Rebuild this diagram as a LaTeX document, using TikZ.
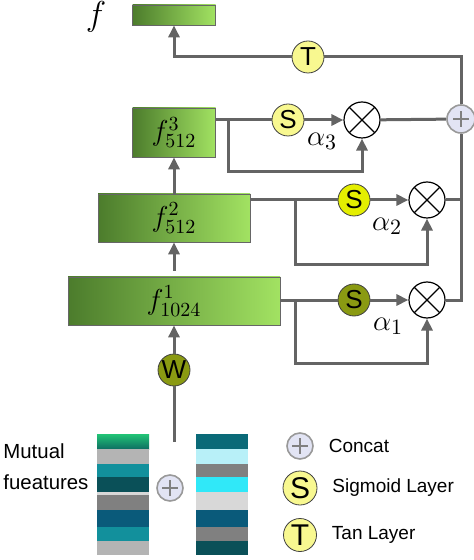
\documentclass[tikz,border=0pt]{standalone}
\usepackage{amsmath}
\usepackage{fontspec}
\setmainfont{Liberation Sans}
\usepackage{tikz}
\usetikzlibrary{matrix, positioning, arrows, arrows.meta}
\usepackage{xcolor}
\definecolor{wirecol}{HTML}{646464}
\definecolor{boxdark}{HTML}{4C7C2C}
\definecolor{boxlight}{HTML}{A2E262}
\definecolor{lightyel}{HTML}{F8F890}
\definecolor{brightyel}{HTML}{E4EE00}
\definecolor{gateolive}{HTML}{8A9A12}
\definecolor{catfill}{HTML}{E2E4F4}
\definecolor{grtop}{HTML}{22C476}
\definecolor{grbot}{HTML}{0E6E62}
\definecolor{lgray}{HTML}{B4B4B4}
\definecolor{mgray}{HTML}{808080}
\definecolor{pale}{HTML}{D8D8D8}
\definecolor{teal1}{HTML}{12909C}
\definecolor{teal2}{HTML}{0A5058}
\definecolor{teal3}{HTML}{0A6A78}
\definecolor{dblue}{HTML}{0A5A7A}
\definecolor{lcyan}{HTML}{B8F0F8}
\definecolor{cyan1}{HTML}{30E8F8}
\tikzstyle{wire} = [wirecol, line width=1.5pt]
\tikzstyle{arrow} = [wire, ->, >={Triangle[length=6pt, width=5.5pt]}]

\begin{document}
\begin{tikzpicture}[
    x=0.5pt, y=-0.5pt,
    fblock/.style={draw=gray!80!black, left color=boxdark, right color=boxlight, minimum height=24pt, inner sep=0, font=\fontsize{14.5}{16}\selectfont},
    gate/.style={circle, draw=black!75, minimum size=16pt, inner sep=0, font=\fontsize{13}{13}\selectfont},
    mult/.style={circle, draw=black, fill=white, minimum size=18pt, inner sep=0, line width=0.6pt,
      path picture={\draw[line width=0.6pt] (path picture bounding box.north west) -- (path picture bounding box.south east)
        (path picture bounding box.north east) -- (path picture bounding box.south west);}},
    concat/.style={circle, draw=gray!80, fill=catfill, minimum size=13pt, inner sep=0, line width=0.8pt,
      path picture={\draw[gray, line width=0.6pt] ([xshift=-4pt]path picture bounding box.center) -- ([xshift=4pt]path picture bounding box.center)
        ([yshift=-4pt]path picture bounding box.center) -- ([yshift=4pt]path picture bounding box.center);}},
    coef/.style={font=\fontsize{15}{15}\selectfont},
    stack/.style={matrix of nodes, nodes in empty cells, row sep=0pt, nodes={minimum width=26pt, inner sep=0, outer sep=0}},
    legtext/.style={font=\fontsize{9.5}{11}\selectfont, right=4pt of #1}
  ]
  \useasboundingbox (0,0) rectangle (474,560);

  % feature blocks
  \node[fblock, minimum width=41.5pt, minimum height=10pt] (fout) at (174,15) {};
  \node[font=\fontsize{18}{18}\selectfont] (flabel) at (96,17) {$f$};
  \node[fblock, minimum width=41.5pt, minimum height=24.5pt] (f3) at (174,132.5) {$f^{3}_{512}$};
  \node[fblock, minimum width=76pt] (f2) at (174,218) {$f^{2}_{512}$};
  \node[fblock, minimum width=106pt] (f1) at (174,301) {$f^{1}_{1024}$};

  % gates
  \node[gate, fill=lightyel] (s3) at (288,120) {S};
  \node[gate, fill=brightyel] (s2) at (354,200) {S};
  \node[gate, fill=gateolive] (s1) at (354,300) {S};
  \node[gate, fill=lightyel] (t) at (308,57) {T};
  \node[gate, fill=gateolive] (w) at (174,370) {W};

  \node[mult] (m3) at (362,120) {};
  \node[mult] (m2) at (427,200) {};
  \node[mult] (m1) at (427,300) {};
  \node[concat, minimum size=14pt] (cc) at (461,119) {};

  \node[coef] (a3) at (322,141) {$\alpha_3$};
  \node[coef] (a2) at (387,226) {$\alpha_2$};
  \node[coef] (a1) at (388,326) {$\alpha_1$};

  \coordinate (b3) at (228,120);
  \coordinate (l3) at (228,172);
  \coordinate (b2) at (295,200);
  \coordinate (l2) at (295,265);
  \coordinate (b1) at (295,300);
  \coordinate (l1) at (295,363);
  \coordinate (wj) at (174,442);

  % connections
  \draw[wire] (f3.east |- s3) -- (s3);
  \draw[arrow] (s3) -- (m3);
  \draw[arrow] (b3) -- (l3) -| (m3);
  \draw[wire] (m3) -- (cc);

  \draw[wire] (f2.east |- s2) -- (s2);
  \draw[arrow] (s2) -- (m2);
  \draw[arrow] (b2) -- (l2) -| (m2);
  \draw[wire] (m2) -- (m2 -| cc);

  \draw[wire] (f1.east |- s1) -- (s1);
  \draw[arrow] (s1) -- (m1);
  \draw[arrow] (b1) -- (l1) -| (m1);
  \draw[wire] (m1) -- (m1 -| cc) -- (cc);

  \draw[wire] (cc) |- (t);
  \draw[arrow] (t) -| (fout);
  \draw[arrow] (f2) -- (f3);
  \draw[arrow, shorten <=3pt] (f1) -- (f2);
  \draw[arrow] (w) -- (f1);
  \draw[wire] (wj) -- (w);

  % mutual features
  \matrix (lstack) [stack, anchor=north] at (123,427) {
    |[top color=grtop, bottom color=grbot, minimum height=7.5pt]| \\
    |[fill=lgray, minimum height=7.5pt]| \\
    |[fill=teal1, minimum height=6.5pt]| \\
    |[fill=teal2, minimum height=7.5pt]| \\
    |[fill=pale, minimum height=1.5pt]| \\
    |[fill=mgray, minimum height=7.5pt]| \\
    |[fill=dblue, minimum height=8.5pt]| \\
    |[fill=teal1, minimum height=7pt]| \\
    |[fill=lgray, minimum height=7pt]| \\
  };
  \matrix (rstack) [stack, anchor=north] at (222,427) {
    |[fill=teal3, minimum height=7.5pt]| \\
    |[fill=lcyan, minimum height=7.5pt]| \\
    |[fill=mgray, minimum height=6.5pt]| \\
    |[fill=cyan1, minimum height=7.5pt]| \\
    |[fill=pale, minimum height=1.5pt]| \\
    |[fill=pale, minimum height=7.5pt]| \\
    |[fill=dblue, minimum height=8.5pt]| \\
    |[fill=mgray, minimum height=7pt]| \\
    |[fill=teal2, minimum height=7pt]| \\
  };
  \node[concat] (cm) at (170,488) {};
  \node[anchor=west, align=left, inner sep=0, font=\fontsize{10.2}{15.5}\selectfont] (mutual) at (3,467) {Mutual\\fueatures};

  % legend
  \node[concat] (lc) at (300,446) {};
  \node[gate, fill=lightyel, minimum size=17pt, font=\fontsize{15}{15}\selectfont] (ls) at (300,488) {S};
  \node[gate, fill=lightyel, minimum size=16.5pt, font=\fontsize{15}{15}\selectfont] (lt) at (300,535) {T};
  \node[legtext=lc] (lctext) {Concat};
  \node[legtext=ls] (lstext) {Sigmoid Layer};
  \node[legtext=lt] (lttext) {Tan Layer};

\end{tikzpicture}
\end{document}
